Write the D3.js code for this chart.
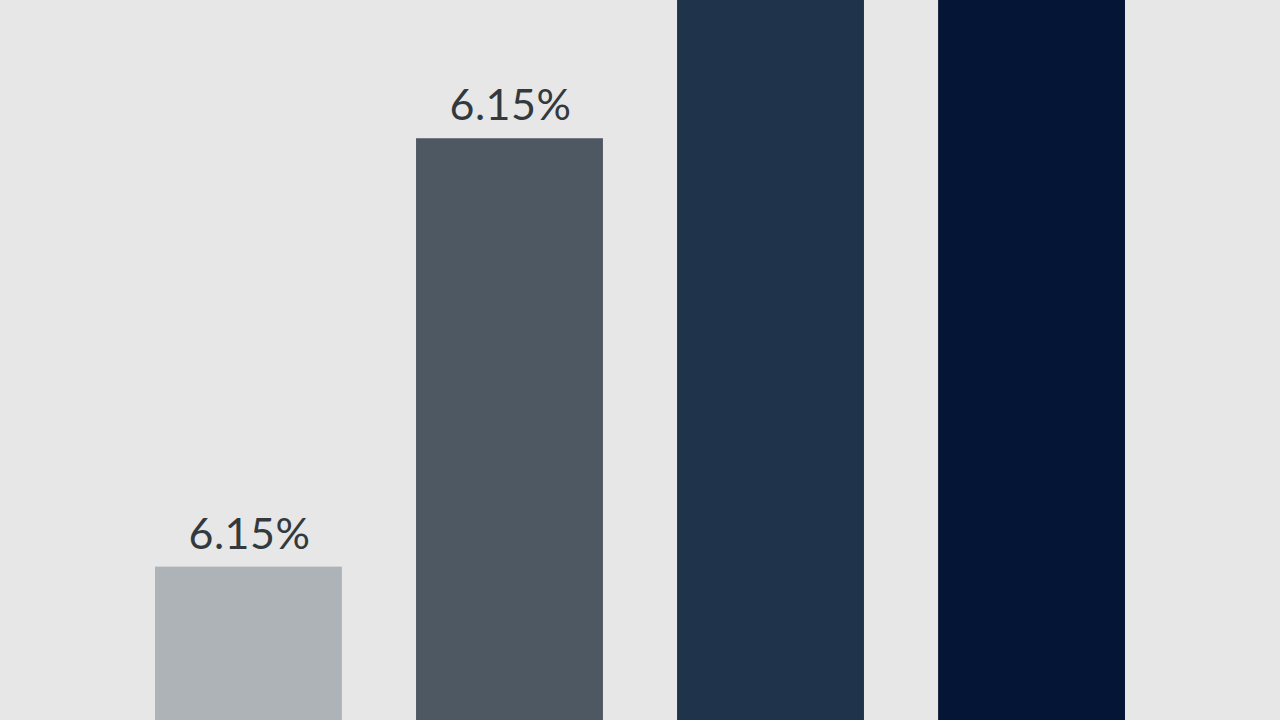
<!DOCTYPE html>
<html>
<head>
<meta charset="utf-8">
<script src="https://cdn.jsdelivr.net/npm/d3@7"></script>
<style>
	html, body { margin: 0; padding: 0; background: #e7e7e7; }
	#canvas { width: 1280px; height: 720px; overflow: hidden; }
</style>
</head>
<body>
<div id="canvas"></div>
<script>
// data (bars 3 and 4 run past the top edge)
const categories = ['A', 'B', 'C', 'D'];
const values = [21.3, 80.8, 112, 118];
const labels = ['6.15%', '6.15%', null, null];
const colors = ['#adb3b6', '#4e5863', '#1f334b', '#041535'];

let W = 1280, H = 720;

const svg = d3.select('#canvas').append('svg')
	.attr('width', W)
	.attr('height', H);

svg.append('rect')
	.attr('width', W)
	.attr('height', H)
	.style('fill', '#e7e7e7');

const x = d3.scaleBand()
	.domain(categories)
	.range([155, 1125])
	.paddingInner(0.284);

const y = d3.scaleLinear()
	.domain([0, 100])
	.range([H, 0]);

const plot = svg.append('g').attr('class', 'plot');

plot.selectAll('.bar')
	.data(categories)
	.enter()
	.append('rect')
	.attr('class', 'bar')
	.attr('x', d => x(d))
	.attr('y', (d, i) => y(values[i]))
	.attr('width', x.bandwidth())
	.attr('height', (d, i) => H - y(values[i]))
	.style('fill', (d, i) => colors[i]);

plot.selectAll('.label')
	.data(categories.filter((d, i) => labels[i]))
	.enter()
	.append('text')
	.attr('class', 'label')
	.attr('x', d => x(d) + x.bandwidth() / 2 + 1)
	.attr('y', d => y(values[categories.indexOf(d)]) - 18)
	.attr('text-anchor', 'middle')
	.style('font-family', 'Lato, sans-serif')
	.style('font-size', '43px')
	.style('letter-spacing', '0.5px')
	.style('fill', '#33393c')
	.text(d => labels[categories.indexOf(d)]);
</script>
</body>
</html>
